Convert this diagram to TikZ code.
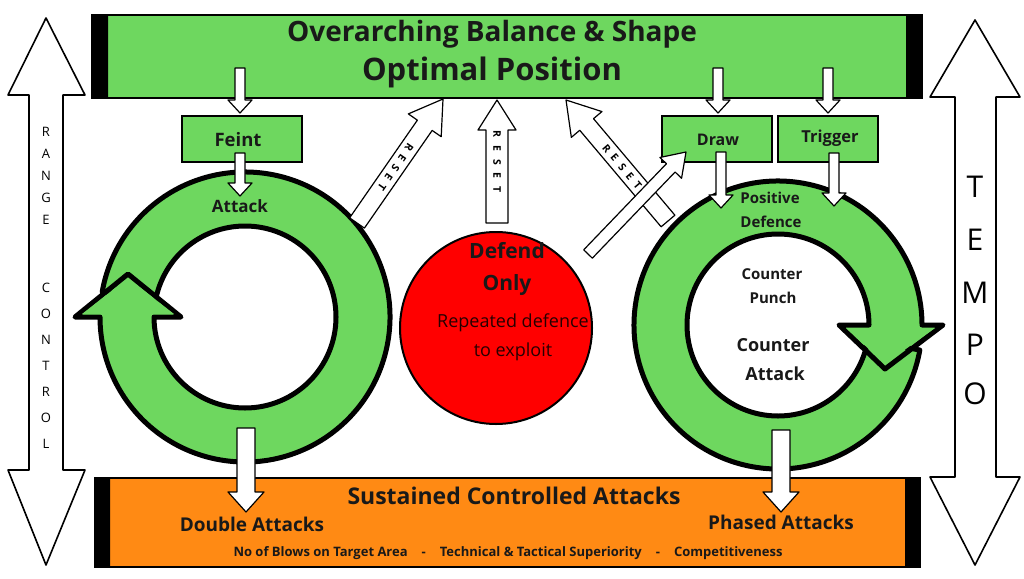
\documentclass[tikz,border=0pt]{standalone}
\usepackage{fontspec}
\setmainfont{Open Sans}
\usetikzlibrary{calc}
\definecolor{gr}{RGB}{110,215,95}
\definecolor{orng}{RGB}{255,138,20}
\tikzset{
 ring/.style={fill=gr,draw=black,line width=5pt,line join=round},
 box/.style={fill=gr,draw=black,line width=1.3pt,minimum height=46pt,inner sep=0pt},
 blockarrow/.style={fill=white,draw=black,line width=1.2pt,line join=round},
 dbl/.style={fill=white,draw=black,line width=1.6pt,line join=round},
 lbl/.style={font=\bfseries,text=black!90,inner sep=0pt},
}
% #1 opts, #2 tail, #3 tip, #4 half shaft, #5 half head, #6 head length
\newcommand\barrow[6][]{%
 \path (#2) coordinate (ba) (#3) coordinate (bb);
 \path ($(bb)!#6pt!(ba)$) coordinate (bh);
 \draw[blockarrow,#1] ($(ba)!#4pt!90:(bb)$) -- ($(bh)!#4pt!-90:(ba)$) -- ($(bh)!#5pt!-90:(ba)$) -- (bb) -- ($(bh)!#5pt!90:(ba)$) -- ($(bh)!#4pt!90:(ba)$) -- ($(ba)!#4pt!-90:(bb)$) -- cycle;}
\newcommand\fs[1]{\fontsize{#1}{#1}\selectfont}
\begin{document}
\begin{tikzpicture}[x=1pt,y=-1pt]
\useasboundingbox (0,0) rectangle (1024,578);
\fill[white] (0,0) rectangle (1024,578);
% side double arrows
\draw[dbl] (46,18) -- (85,95) -- (63,95) -- (63,470) -- (85,470) -- (46,565) -- (8,470) -- (29,470) -- (29,95) -- (8,95) -- cycle;
\draw[dbl] (975,20) -- (1020,97) -- (996,97) -- (996,477) -- (1020,477) -- (975,565) -- (930,477) -- (955,477) -- (955,97) -- (930,97) -- cycle;
\foreach \l [count=\i] in {R,A,N,G,E} \node[font=\fs{13}] (rc\i) at (46,110+\i*22) {\l};
\foreach \l [count=\i] in {C,O,N,T,R,O,L} \node[font=\fs{13}] (rd\i) at (46,262+\i*26) {\l};
\foreach \l/\y [count=\i] in {T/187,E/240,M/293,P/345,O/394} \node[font=\fs{30}] (tp\i) at (975,\y) {\l};
% top bar
\node[fill=gr,draw=black,line width=1.3pt,minimum width=830pt,minimum height=83pt,inner sep=0pt] (top) at (507,56.5) {};
\fill[black] (92,15) rectangle (108,98) (906,15) rectangle (922,98);
\node[lbl,font=\bfseries\fs{28}] (t1) at (492,34) {Overarching Balance \& Shape};
\node[lbl,font=\bfseries\fs{31}] (t2) at (492,72) {Optimal Position};
% bottom bar
\node[fill=orng,draw=black,line width=1.3pt,minimum width=825pt,minimum height=89pt,inner sep=0pt] (bot) at (507.5,522.5) {};
\fill[black] (95,478) rectangle (110,567) (905,478) rectangle (920,567);
\node[lbl,font=\bfseries\fs{23}] (b1) at (514,496) {Sustained Controlled Attacks};
\node[lbl,font=\bfseries\fs{19}] (b2) at (252,524) {Double Attacks};
\node[lbl,font=\bfseries\fs{19}] (b3) at (781,522) {Phased Attacks};
\node[lbl,font=\bfseries\fs{13}] (b4) at (508,553) {No of Blows on Target Area\hspace{14pt}-\hspace{14pt}Technical \& Tactical Superiority\hspace{14pt}-\hspace{14pt}Competitiveness};
% boxes
\node[box,minimum width=120pt] (feint) at (242,139) {};
\node[box,minimum width=110pt] (draw) at (717,139) {};
\node[box,minimum width=100pt] (trig) at (828,139) {};
\node[lbl,font=\bfseries\fs{18.5}] at (238,140) {Feint};
\node[lbl,font=\bfseries\fs{16}] at (718,140) {Draw};
\node[lbl,font=\bfseries\fs{16.5}] at (830,138) {Trigger};
% small arrows
\coordinate (fa1) at (240,68); \coordinate (fa2) at (240,113);
\coordinate (fb1) at (240,153); \coordinate (fb2) at (240,196);
\coordinate (da1) at (718,68); \coordinate (da2) at (718,113);
\coordinate (ta1) at (828,68); \coordinate (ta2) at (828,113);
\coordinate (db1) at (721,152); \coordinate (db2) at (721,208);
\coordinate (tb1) at (834,153); \coordinate (tb2) at (834,206);
\barrow{fa1}{fa2}{5}{12}{13}
\barrow{da1}{da2}{5}{12}{13}
\barrow{ta1}{ta2}{5}{12}{13}
% left ring
\coordinate (L) at (245,317);
\draw[ring] ([shift={(190:145)}]L) arc[start angle=190,end angle=540,radius=145] -- (75,317) -- (128,274) -- (181,317) -- ([shift={(540:91)}]L) arc[start angle=540,end angle=190,radius=91] -- cycle;
\fill[gr] (82,314) -- (128,278) -- (174,314) -- cycle;
% right ring
\coordinate (R) at (778,325);
\draw[ring] ([shift={(10:144)}]R) arc[start angle=10,end angle=360,radius=144] -- (943,325) -- (885,369) -- (839,325) -- ([shift={(360:91)}]R) arc[start angle=360,end angle=10,radius=91] -- cycle;
\fill[gr] (935,328) -- (885,364) -- (846,328) -- cycle;
\barrow{fb1}{fb2}{5}{12}{13}
\barrow{db1}{db2}{5}{12}{13}
\barrow{tb1}{tb2}{5}{12}{13}
\node[lbl,font=\bfseries\fs{17}] at (240,206) {Attack};
\node[lbl,font=\bfseries\fs{15}] at (770,198) {Positive};
\node[lbl,font=\bfseries\fs{15}] at (771,222) {Defence};
\node[lbl,font=\bfseries\fs{15}] at (772,274) {Counter};
\node[lbl,font=\bfseries\fs{15}] at (773,298) {Punch};
\node[lbl,font=\bfseries\fs{18}] at (773,345) {Counter};
\node[lbl,font=\bfseries\fs{18}] at (775,374) {Attack};
% red circle
\node[circle,fill=red,draw=black,line width=2pt,minimum size=192pt,inner sep=0pt] (def) at (496,328) {};
\node[lbl,font=\bfseries\fs{21}] at (507,251) {Defend};
\node[lbl,font=\bfseries\fs{21}] at (507,285) {Only};
\node[inner sep=0pt,font=\fs{18},text=black!85!red] at (513,323) {Repeated defence};
\node[inner sep=0pt,font=\fs{18},text=black!85!red] at (513,352) {to exploit};
% reset arrows
\coordinate (r1a) at (357,223); \coordinate (r1b) at (443,99);
\coordinate (r2a) at (497,223); \coordinate (r2b) at (497,100);
\coordinate (r3a) at (668,221); \coordinate (r3b) at (566,100);
\coordinate (thA) at (588,254); \coordinate (thB) at (686,152);
\barrow{r1a}{r1b}{9}{20}{32}
\barrow{r2a}{r2b}{11}{19}{30}
\barrow{r3a}{r3b}{9}{20}{32}
\barrow{thA}{thB}{6}{15}{22}
\path (r1b) -- (r1a) node[pos=0.55,sloped,allow upside down,font=\bfseries\fs{10.5}] {R\hspace{6pt}E\hspace{6pt}S\hspace{6pt}E\hspace{6pt}T};
\path (r2b) -- (r2a) node[pos=0.5,sloped,allow upside down,font=\bfseries\fs{10.5}] {R\hspace{8pt}E\hspace{8pt}S\hspace{8pt}E\hspace{8pt}T};
\path (r3b) -- (r3a) node[pos=0.55,sloped,allow upside down,font=\bfseries\fs{10.5}] {R\hspace{6pt}E\hspace{6pt}S\hspace{6pt}E\hspace{6pt}T};
% ring to bottom arrows
\coordinate (la1) at (246,428); \coordinate (la2) at (246,512);
\coordinate (ra1) at (781,430); \coordinate (ra2) at (781,512);
\barrow{la1}{la2}{9}{18}{20}
\barrow{ra1}{ra2}{9}{18}{20}
\end{tikzpicture}
\end{document}
